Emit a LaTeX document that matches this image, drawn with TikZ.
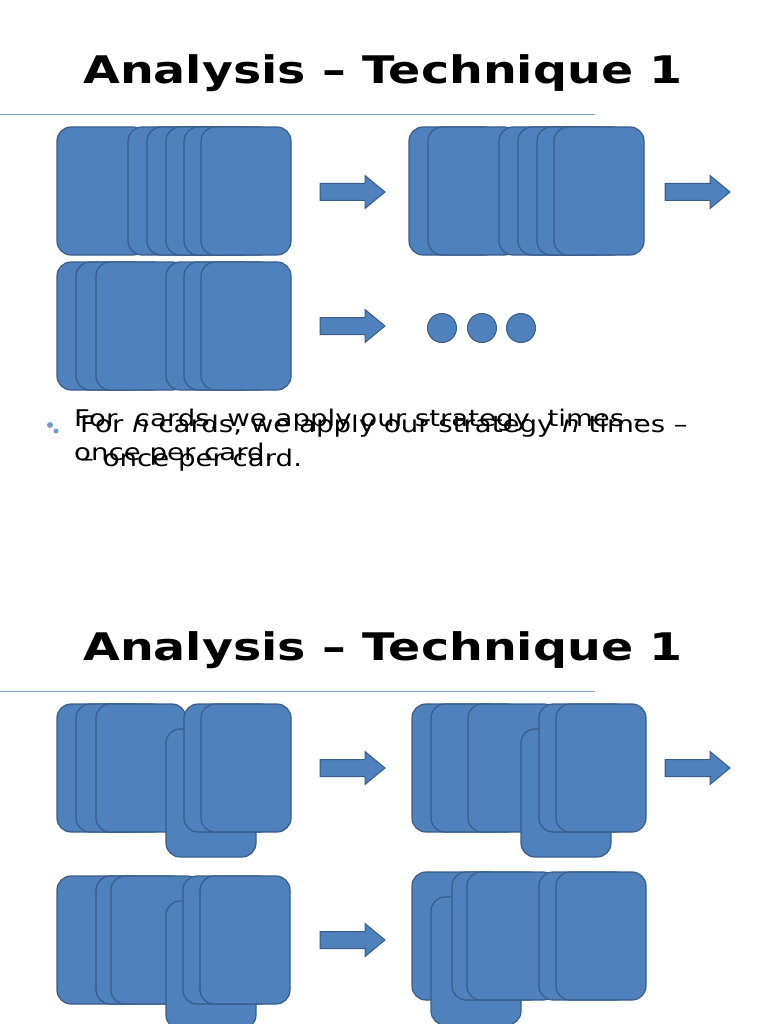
\documentclass[tikz,border=0pt]{standalone}
\usepackage{fontspec}
\setmainfont{DejaVu Sans}
\definecolor{cardfill}{HTML}{4F81BD}
\definecolor{cardline}{HTML}{385D8A}
\definecolor{rulec}{HTML}{7BA1D0}
\begin{document}
\begin{tikzpicture}[x=1pt,y=-1pt,
  cardbox/.style={fill=cardfill,draw=cardline,line width=1.2pt,rounded corners=14pt},
  arrowshape/.style={fill=cardfill,draw=cardline,line width=1pt},
  dotshape/.style={circle,fill=cardfill,draw=cardline,line width=1pt,minimum size=29pt,inner sep=0pt},
  titletext/.style={font=\bfseries\fontsize{38}{44}\selectfont,anchor=center,xscale=1.25},
  bodytext/.style={font=\fontsize{23}{34}\selectfont,anchor=north west,align=left,xscale=1.2}]
\useasboundingbox (0,0) rectangle (768,1024);
\newcommand{\cardat}[2]{\draw[cardbox] (#1,#2) rectangle ++(90,128);}
\newcommand{\arrowat}[2]{\draw[arrowshape] (#1,#2-8.5) -- ++(45,0) -- ++(0,-8) -- ++(20,16.5) -- ++(-20,16.5) -- ++(0,-8) -- ++(-45,0) -- cycle;}
% top half
\node[titletext] (t1) at (383,73) {Analysis – Technique 1};
\draw[rulec,line width=1pt] (0,115) -- (595,115);
\foreach \x in {57,128,147,166,184,201} {\cardat{\x}{127}}
\foreach \x in {409,428,499,518,537,554} {\cardat{\x}{127}}
\foreach \x in {57,76,96,166,184,201} {\cardat{\x}{262}}
\arrowat{320}{192}
\arrowat{665}{192}
\arrowat{320}{326}
\node[dotshape] (d1) at (442,328) {};
\node[dotshape] (d2) at (482,328) {};
\node[dotshape] (d3) at (521,328) {};
\fill[cardfill!80] (50,425) circle (3pt);
\fill[cardfill!80] (56,431) circle (2.5pt);
\node[bodytext] (b1) at (70,405) {For \ cards, we apply our strategy \ times –\\once per card.};
\node[bodytext] (b2) at (76,411) {For \textit{n} cards, we apply our strategy \textit{n} times –\\– once per card.};
% bottom half
\node[titletext] (t2) at (383,650) {Analysis – Technique 1};
\draw[rulec,line width=1pt] (0,691) -- (595,691);
\foreach \x in {57,76,96} {\cardat{\x}{704}}
\cardat{166}{729}
\foreach \x in {184,201} {\cardat{\x}{704}}
\foreach \x in {412,431,468} {\cardat{\x}{704}}
\cardat{521}{729}
\foreach \x in {539,556} {\cardat{\x}{704}}
\foreach \x in {57,96,111} {\cardat{\x}{876}}
\cardat{166}{901}
\foreach \x in {183,200} {\cardat{\x}{876}}
\cardat{412}{872}
\cardat{431}{897}
\foreach \x in {452,467,539,556} {\cardat{\x}{872}}
\arrowat{320}{768}
\arrowat{665}{768}
\arrowat{320}{940}
\end{tikzpicture}
\end{document}
